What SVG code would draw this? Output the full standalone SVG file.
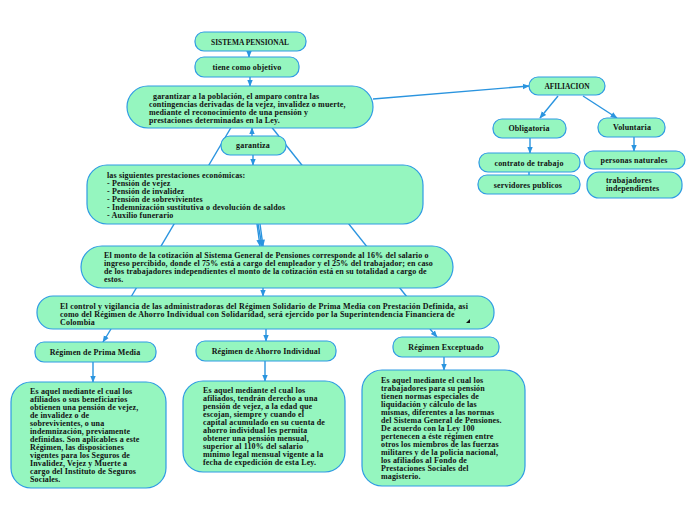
<svg xmlns="http://www.w3.org/2000/svg" width="697" height="520" viewBox="0 0 697 520">
<defs>
<style>
.n{fill:#95f6bf;stroke:#2f9be3;stroke-width:1.2}
.t{font-family:"Liberation Serif","Times New Roman",serif;font-weight:bold;font-size:8px;letter-spacing:0.15px;fill:#111}
.k{font-size:7.4px;letter-spacing:0}
.w{letter-spacing:0.2px}
.c{text-anchor:middle}
.e{stroke:#2a94df;stroke-width:1.4;fill:none}
.ea{stroke:#2a94df;stroke-width:1.4;fill:none;marker-end:url(#ah)}
</style>
<marker id="ah" viewBox="0 0 10 10" refX="9" refY="5" markerWidth="5" markerHeight="5" orient="auto" markerUnits="strokeWidth">
<path d="M0,1 L10,5 L0,9 z" fill="#2a94df"/>
</marker>
</defs>
<rect width="697" height="520" fill="#ffffff"/>
<g id="connectors">
<line class="e" x1="239" y1="114" x2="131" y2="297"/>
<line class="e" x1="262" y1="115" x2="407" y2="297"/>
<line class="ea" x1="249" y1="51" x2="249" y2="57"/>
<line class="ea" x1="250" y1="77" x2="250" y2="86"/>
<line class="ea" x1="252" y1="136" x2="252" y2="128"/>
<line class="ea" x1="253" y1="155" x2="253" y2="165"/>
<line class="ea" x1="257" y1="224" x2="260" y2="246"/>
<line class="ea" x1="258" y1="224" x2="262" y2="246"/>
<line class="ea" x1="260" y1="224" x2="263" y2="246"/>
<line class="ea" x1="263" y1="288" x2="263" y2="296"/>
<line class="ea" x1="111" y1="329" x2="103" y2="342"/>
<line class="ea" x1="266" y1="329" x2="266" y2="341"/>
<line class="ea" x1="430" y1="329" x2="437" y2="337"/>
<line class="ea" x1="93" y1="362" x2="93" y2="382"/>
<line class="ea" x1="265" y1="361" x2="265" y2="381"/>
<line class="ea" x1="444" y1="357" x2="444" y2="370"/>
<line class="ea" x1="373" y1="99" x2="529" y2="86"/>
<line class="ea" x1="558" y1="96" x2="540" y2="118"/>
<line class="ea" x1="583" y1="96" x2="617" y2="118"/>
<line class="ea" x1="530" y1="138" x2="530" y2="153"/>
<line class="ea" x1="634" y1="137" x2="634" y2="151"/>
<line class="e" x1="529" y1="172" x2="529" y2="175"/>
</g>
<g id="sistema"><rect class="n" x="195" y="32" width="111" height="19" rx="9"/><text class="t k c" x="250" y="44.5">SISTEMA PENSIONAL</text></g>
<g id="objetivo"><rect class="n" x="195" y="57" width="104" height="20" rx="9"/><text class="t c" x="247" y="70">tiene como objetivo</text></g>
<g id="garantizar"><rect class="n" x="127" y="86" width="246" height="42" rx="21"/>
<text class="t"><tspan x="153" y="98.5">garantizar a la población, el amparo contra las</tspan><tspan x="149" y="106.5">contingencias derivadas de la vejez, invalidez o muerte,</tspan><tspan x="149" y="114.5">mediante el reconocimiento de una pensión y</tspan><tspan x="149" y="122.5">prestaciones determinadas en la Ley.</tspan></text></g>
<g id="garantiza"><rect class="n" x="221" y="136" width="65" height="19" rx="9"/><text class="t c" x="253" y="148">garantiza</text></g>
<g id="prestaciones"><rect class="n" x="87" y="165" width="336" height="59" rx="20"/>
<text class="t"><tspan x="107" y="177.5">las siguientes prestaciones económicas:</tspan><tspan x="107" y="185.5">- Pensión de vejez</tspan><tspan x="107" y="193.5">- Pensión de invalidez</tspan><tspan x="107" y="201.5">- Pensión de sobrevivientes</tspan><tspan x="107" y="209.5">- Indemnización sustitutiva o devolución de saldos</tspan><tspan x="107" y="217.5">- Auxilio funerario</tspan></text></g>
<g id="monto"><rect class="n" x="81" y="246" width="372" height="42" rx="21"/>
<text class="t"><tspan x="104" y="257.5">El monto de la cotización al Sistema General de Pensiones corresponde al 16% del salario o</tspan><tspan x="104" y="265.5">ingreso percibido, donde el 75% está a cargo del empleador y el 25% del trabajador; en caso</tspan><tspan x="104" y="273.5">de los trabajadores independientes el monto de la cotización está en su totalidad a cargo de</tspan><tspan x="104" y="281.5">estos.</tspan></text></g>
<g id="control"><rect class="n" x="37" y="296" width="457" height="33" rx="16"/>
<text class="t w"><tspan x="60" y="308.5">El control y vigilancia de las administradoras del Régimen Solidario de Prima Media con Prestación Definida, asi</tspan><tspan x="60" y="316.5">como del Régimen de Ahorro Individual con Solidaridad, será ejercido por la Superintendencia Financiera de</tspan><tspan x="60" y="324.5">Colombia</tspan></text>
<polygon points="466,323 470,323 470,319" fill="#111"/></g>
<g id="prima"><rect class="n" x="35" y="342" width="121" height="20" rx="9"/><text class="t c" x="95" y="354.5">Régimen de Prima Media</text></g>
<g id="ahorro"><rect class="n" x="196" y="341" width="140" height="20" rx="9"/><text class="t c" x="266" y="353.5">Régimen de Ahorro Individual</text></g>
<g id="exceptuado"><rect class="n" x="393" y="337" width="106" height="20" rx="9"/><text class="t c" x="446" y="349.5">Régimen Exceptuado</text></g>
<g id="prima-desc"><rect class="n" x="11" y="382" width="155" height="106" rx="20"/>
<text class="t"><tspan x="30" y="393.5">Es aquel mediante el cual los</tspan><tspan x="30" y="401.5">afiliados o sus beneficiarios</tspan><tspan x="30" y="409.5">obtienen una pensión de vejez,</tspan><tspan x="30" y="417.5">de invalidez o de</tspan><tspan x="30" y="425.5">sobrevivientes, o una</tspan><tspan x="30" y="433.5">indemnización, previamente</tspan><tspan x="30" y="441.5">definidas. Son aplicables a este</tspan><tspan x="30" y="449.5">Régimen, las disposiciones</tspan><tspan x="30" y="457.5">vigentes para los Seguros de</tspan><tspan x="30" y="465.5">Invalidez, Vejez y Muerte a</tspan><tspan x="30" y="473.5">cargo del Instituto de Seguros</tspan><tspan x="30" y="481.5">Sociales.</tspan></text></g>
<g id="ahorro-desc"><rect class="n" x="183" y="381" width="162" height="91" rx="20"/>
<text class="t"><tspan x="203" y="392.5">Es aquel mediante el cual los</tspan><tspan x="203" y="400.5">afiliados, tendrán derecho a una</tspan><tspan x="203" y="408.5">pensión de vejez, a la edad que</tspan><tspan x="203" y="416.5">escojan, siempre y cuando el</tspan><tspan x="203" y="424.5">capital acumulado en su cuenta de</tspan><tspan x="203" y="432.5">ahorro individual les permita</tspan><tspan x="203" y="440.5">obtener una pensión mensual,</tspan><tspan x="203" y="448.5">superior al 110% del salario</tspan><tspan x="203" y="456.5">mínimo legal mensual vigente a la</tspan><tspan x="203" y="464.5">fecha de expedición de esta Ley.</tspan></text></g>
<g id="exceptuado-desc"><rect class="n" x="362" y="370" width="163" height="116" rx="20"/>
<text class="t"><tspan x="381" y="382.5">Es aquel mediante el cual los</tspan><tspan x="381" y="390.5">trabajadores para su pensión</tspan><tspan x="381" y="398.5">tienen normas especiales de</tspan><tspan x="381" y="406.5">liquidación y cálculo de las</tspan><tspan x="381" y="414.5">mismas, diferentes a las normas</tspan><tspan x="381" y="422.5">del Sistema General de Pensiones.</tspan><tspan x="381" y="430.5">De acuerdo con la Ley 100</tspan><tspan x="381" y="438.5">pertenecen a éste régimen entre</tspan><tspan x="381" y="446.5">otros los miembros de las fuerzas</tspan><tspan x="381" y="454.5">militares y de la policia nacional,</tspan><tspan x="381" y="462.5">los afiliados al Fondo de</tspan><tspan x="381" y="470.5">Prestaciones Sociales del</tspan><tspan x="381" y="478.5">magisterio.</tspan></text></g>
<g id="afiliacion"><rect class="n" x="529" y="77" width="76" height="18" rx="9"/><text class="t k c" x="567" y="88.5">AFILIACION</text></g>
<g id="obligatoria"><rect class="n" x="493" y="119" width="73" height="19" rx="9"/><text class="t c" x="529" y="130.5">Obligatoria</text></g>
<g id="voluntaria"><rect class="n" x="598" y="118" width="67" height="19" rx="9"/><text class="t c" x="632" y="129.5">Voluntaria</text></g>
<g id="contrato"><rect class="n" x="479" y="153" width="101" height="19" rx="9"/><text class="t c" x="529" y="165.5">contrato de trabajo</text></g>
<g id="servidores"><rect class="n" x="478" y="175" width="102" height="19" rx="9"/><text class="t c" x="528" y="187.5">servidores publicos</text></g>
<g id="personas"><rect class="n" x="584" y="151" width="101" height="18" rx="9"/><text class="t c" x="634" y="162.5">personas naturales</text></g>
<g id="trabajadores"><rect class="n" x="587" y="172" width="95" height="26" rx="12"/>
<text class="t"><tspan x="606" y="182.5">trabajadores</tspan><tspan x="606" y="190.5">independientes</tspan></text></g>
</svg>
